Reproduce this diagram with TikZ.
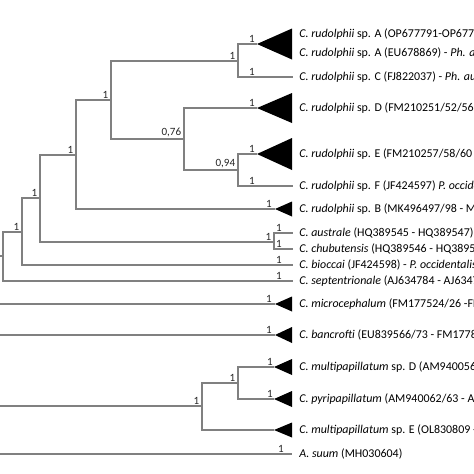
\documentclass[tikz,border=0pt]{standalone}
\usepackage{fontspec}
\setmainfont{Carlito}
\usetikzlibrary{positioning}
\definecolor{cBranch}{RGB}{128,128,128}
\tikzset{
  branch/.style={draw=cBranch,line width=0.6pt},
  clade/.style={fill=black},
  taxon/.style={anchor=west,inner sep=0pt,font=\fontsize{6.8}{8}\selectfont},
  supp/.style={anchor=south east,inner sep=0pt,font=\fontsize{6.3}{7}\selectfont,
               text=black!85}
}
\begin{document}
\begin{tikzpicture}[x=0.02cm,y=-0.02cm]
  \useasboundingbox (0,0) rectangle (474,474);

  % internal nodes
  \coordinate (root) at (3,256);
  \coordinate (n1) at (22,232);
  \coordinate (n2) at (40,198);
  \coordinate (n3) at (76,155);
  \coordinate (n4) at (111,100);
  \coordinate (n5) at (238,61);
  \coordinate (n6) at (184,139);
  \coordinate (n7) at (238,170);
  \coordinate (n8) at (274,242);
  \coordinate (n9) at (202,406);
  \coordinate (n10) at (238,383);

  % ancestors cut off at the left edge
  \coordinate (cutR) at (0,256);
  \coordinate (cutMic) at (0,304);
  \coordinate (cutBan) at (0,335);
  \coordinate (cutMul) at (0,406);
  \coordinate (cutAsu) at (0,454);

  % tips (apex of a collapsed clade or end of a branch)
  \coordinate (tA) at (257,44);
  \coordinate (tC) at (293,77);
  \coordinate (tD) at (257,108);
  \coordinate (tE) at (257,154);
  \coordinate (tF) at (293,186);
  \coordinate (tB) at (275,209);
  \coordinate (tAus) at (293,233);
  \coordinate (tChu) at (293,249);
  \coordinate (tBio) at (293,265);
  \coordinate (tSep) at (293,281);
  \coordinate (tMic) at (275,304);
  \coordinate (tBan) at (275,335);
  \coordinate (tMulD) at (274,367);
  \coordinate (tPyr) at (274,399);
  \coordinate (tMulE) at (274,430);
  \coordinate (tAsu) at (292,454);

  % branches
  \draw[branch] (cutR) -- (root);
  \draw[branch] (root) |- (n1);
  \draw[branch] (root) |- (tSep);
  \draw[branch] (n1) |- (n2);
  \draw[branch] (n1) |- (tBio);
  \draw[branch] (n2) |- (n3);
  \draw[branch] (n2) |- (n8);
  \draw[branch] (n3) |- (n4);
  \draw[branch] (n3) |- (tB);
  \draw[branch] (n4) |- (n5);
  \draw[branch] (n4) |- (n6);
  \draw[branch] (n5) |- (tA);
  \draw[branch] (n5) |- (tC);
  \draw[branch] (n6) |- (tD);
  \draw[branch] (n6) |- (n7);
  \draw[branch] (n7) |- (tE);
  \draw[branch] (n7) |- (tF);
  \draw[branch] (n8) |- (tAus);
  \draw[branch] (n8) |- (tChu);
  \draw[branch] (cutMic) -- (tMic);
  \draw[branch] (cutBan) -- (tBan);
  \draw[branch] (cutMul) -- (n9);
  \draw[branch] (n9) |- (n10);
  \draw[branch] (n9) |- (tMulE);
  \draw[branch] (n10) |- (tMulD);
  \draw[branch] (n10) |- (tPyr);
  \draw[branch] (cutAsu) -- (tAsu);

  % collapsed clades
  \foreach \t/\w/\h in {tA/35/15.5, tD/35/15, tE/35/16, tB/17/7.5,
                        tMic/17/7.5, tBan/17/8, tMulD/18/8, tPyr/18/8, tMulE/18/7.5}
    \fill[clade] (\t) -- ++(\w,-\h) -- ++(0,2*\h) -- cycle;

  % posterior probabilities at the nodes
  \foreach \n/\v in {n1/1, n2/1, n3/1, n4/1, n5/1, n6/{0,76}, n7/{0,94},
                     n8/1, n9/1, n10/1}
    \node[supp] (s\n) at ([shift={(-2.5,-1.5)}]\n) {\v};

  % posterior probabilities on the terminal branches
  \foreach \n/\x/\y in {A/255/42.5, C/255/75.5, D/255/106.5, E/255/152.5,
                        F/255/184.5, B/272/207.5, Aus/282/231.5, Chu/282/247.5,
                        Bio/282/263.5, Sep/282/279.5, Mic/272/302.5,
                        Ban/272/333.5, MulD/273/365.5, Pyr/273/397.5,
                        Asu/284/452.5}
    \node[supp] (st\n) at (\x,\y) {1};

  % taxa
  \node[taxon] (lA1) at (299,34) {\textit{C. rudolphii} sp. A (OP677791-OP6777};
  \node[taxon] (lA2) at (299,53) {\textit{C. rudolphii} sp. A (EU678869) - \textit{Ph. am}};
  \node[taxon] (lC) at (299,77) {\textit{C. rudolphii} sp. C (FJ822037) - \textit{Ph. au}};
  \node[taxon] (lD) at (299,108) {\textit{C. rudolphii} sp. D (FM210251/52/56};
  \node[taxon] (lE) at (299,154) {\textit{C. rudolphii} sp. E (FM210257/58/60 -};
  \node[taxon] (lF) at (299,186) {\textit{C. rudolphii} sp. F (JF424597) \textit{P. occide}};
  \node[taxon] (lB) at (299,209) {\textit{C. rudolphii} sp. B (MK496497/98 - MT};
  \node[taxon] (lAus) at (299,233) {\textit{C. australe} (HQ389545 - HQ389547)};
  \node[taxon] (lChu) at (299,249) {\textit{C. chubutensis} (HQ389546 - HQ38954};
  \node[taxon] (lBio) at (299,265) {\textit{C. bioccai} (JF424598) - \textit{P. occidentalis}};
  \node[taxon] (lSep) at (299,281) {\textit{C. septentrionale} (AJ634784 - AJ6347};
  \node[taxon] (lMic) at (299,304) {\textit{C. microcephalum} (FM177524/26 -FM};
  \node[taxon] (lBan) at (299,335) {\textit{C. bancrofti} (EU839566/73 - FM1778};
  \node[taxon] (lMulD) at (299,367) {\textit{C. multipapillatum} sp. D (AM940056-};
  \node[taxon] (lPyr) at (299,399) {\textit{C. pyripapillatum} (AM940062/63 - AM};
  \node[taxon] (lMulE) at (299,430) {\textit{C. multipapillatum} sp. E (OL830809 -};
  \node[taxon] (lAsu) at (299,454) {\textit{A. suum} (MH030604)};

\end{tikzpicture}
\end{document}
